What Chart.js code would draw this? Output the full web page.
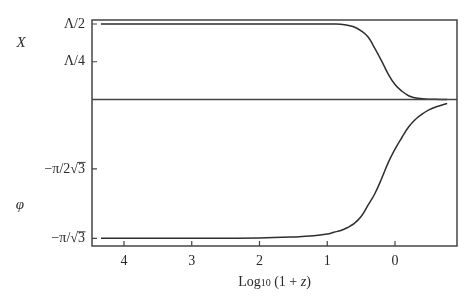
<!DOCTYPE html>
<html>
<head>
<meta charset="utf-8">
<script src="https://cdn.jsdelivr.net/npm/chart.js@4.4.1/dist/chart.umd.min.js"></script>
<style>
html,body{margin:0;padding:0;background:#fff;}
#wrap{width:474px;height:305px;position:relative;}
</style>
</head>
<body>
<div id="wrap"><canvas id="myChart"></canvas></div>
<script>
// log10(1+z) sample points, shared by both curves
var logz = [4.34, 3, 2, 1.5, 1.2, 1.0, 0.9, 0.8, 0.7, 0.6, 0.5, 0.4, 0.3, 0.2, 0.1, 0, -0.1, -0.2, -0.3, -0.4, -0.5, -0.6, -0.77];
// X in units of Lambda
var xVals = [0.5, 0.5, 0.5, 0.5, 0.5, 0.5, 0.4995, 0.498, 0.492, 0.48, 0.455, 0.415, 0.341, 0.258, 0.168, 0.099, 0.056, 0.025, 0.011, 0.005, 0.002, 0.001, 0];
// phi
var phiVals = [-1.814, -1.814, -1.81, -1.797, -1.782, -1.758, -1.735, -1.712, -1.673, -1.62, -1.53, -1.385, -1.235, -1.04, -0.825, -0.65, -0.5, -0.36, -0.261, -0.19, -0.135, -0.098, -0.052];

var xTicks = [4, 3, 2, 1, 0];
var xTickLabels = ['4', '3', '2', '1', '0'];
var xTickTop = [0.5, 0.25];
var xTickTopLabels = ['\u039B/2', '\u039B/4'];
var phiTicks = [-Math.PI / (2 * Math.sqrt(3)), -Math.PI / Math.sqrt(3)];
var phiTickLabels = ['\u2212\u03C0/2\u221A3', '\u2212\u03C0/\u221A3'];

var yMin = -0.970, yMax = 0.5265;
var phiMin = -1.915, phiMax = 1.039;
var ratio = yMax / phiMax;

var ink = '#2a2a2a';
var serif = "'Liberation Serif', 'DejaVu Serif', serif";

function pts(ys){
	return logz.map(function(v, i){ return {x: v, y: ys[i]}; });
}

var frame = {
	id: 'frame',
	afterDraw: function(chart){
		var ctx = chart.ctx, a = chart.chartArea;
		var xs = chart.scales.x, ys = chart.scales.y;
		ctx.save();
		ctx.strokeStyle = '#444';
		ctx.lineWidth = 1.5;
		ctx.strokeRect(a.left, a.top, a.right - a.left, a.bottom - a.top);
		// zero line
		var y0 = ys.getPixelForValue(0);
		ctx.beginPath();
		ctx.moveTo(a.left, y0);
		ctx.lineTo(a.right, y0);
		ctx.stroke();
		// inward ticks
		ctx.lineWidth = 1.2;
		ctx.beginPath();
		xTicks.forEach(function(v){
			var px = xs.getPixelForValue(v);
			ctx.moveTo(px, a.bottom);
			ctx.lineTo(px, a.bottom - 5);
		});
		ys.ticks.forEach(function(t){
			var py = ys.getPixelForValue(t.value);
			ctx.moveTo(a.left, py);
			ctx.lineTo(a.left + 5, py);
		});
		ctx.stroke();
		// overline of the square roots
		ctx.font = '14px ' + serif;
		var w3 = ctx.measureText('3').width;
		ctx.strokeStyle = ink;
		ctx.lineWidth = 0.9;
		ctx.beginPath();
		phiTicks.forEach(function(v){
			var py = ys.getPixelForValue(v * ratio);
			var rx = a.left - 7;
			ctx.moveTo(rx - w3 - 0.5, py - 6.5);
			ctx.lineTo(rx + 0.5, py - 6.5);
		});
		ctx.stroke();
		// side labels
		ctx.fillStyle = ink;
		ctx.textAlign = 'center';
		ctx.textBaseline = 'middle';
		ctx.font = 'italic 15px ' + serif;
		ctx.fillText('X', 21, 43);
		ctx.fillText('\u03C6', 20, 205);
		// x title: Log10 (1 + z)
		var cx = (a.left + a.right) / 2, ty = 286;
		ctx.textAlign = 'left';
		ctx.textBaseline = 'alphabetic';
		var parts = [
			{t: 'Log', f: '14px ' + serif},
			{t: '10', f: '10px ' + serif},
			{t: ' (1 + ', f: '14px ' + serif},
			{t: 'z', f: 'italic 14px ' + serif},
			{t: ')', f: '14px ' + serif}
		];
		var w = 0;
		parts.forEach(function(p){ ctx.font = p.f; p.w = ctx.measureText(p.t).width; w += p.w; });
		var x = cx - w / 2;
		parts.forEach(function(p){
			ctx.font = p.f;
			ctx.fillText(p.t, x, ty);
			x += p.w;
		});
		ctx.restore();
	}
};

var config = {
	type: 'line',
	data: {
		datasets: [
			{
				label: 'X',
				data: pts(xVals),
				borderColor: '#2e2e2e',
				borderWidth: 1.5,
				pointRadius: 0,
				tension: 0.4,
				fill: false,
				yAxisID: 'y'
			},
			{
				label: 'phi',
				data: pts(phiVals),
				borderColor: '#2e2e2e',
				borderWidth: 1.5,
				pointRadius: 0,
				tension: 0.4,
				fill: false,
				yAxisID: 'y2'
			}
		]
	},
	options: {
		animation: false,
		responsive: true,
		maintainAspectRatio: false,
		layout: {padding: {left: 0, right: 17, top: 20, bottom: 0}},
		plugins: {legend: {display: false}, tooltip: {enabled: false}},
		scales: {
			x: {
				type: 'linear',
				reverse: true,
				min: -0.915,
				max: 4.472,
				grid: {display: false, drawTicks: false},
				border: {display: false},
				afterBuildTicks: function(s){ s.ticks = xTicks.map(function(v){ return {value: v}; }); },
				afterFit: function(s){ s.height = 59; },
				ticks: {
					color: ink,
					padding: 7,
					font: {family: serif, size: 14},
					maxRotation: 0,
					callback: function(v){ var i = xTicks.indexOf(v); return i < 0 ? '' : xTickLabels[i]; }
				}
			},
			y: {
				min: yMin,
				max: yMax,
				grid: {display: false, drawTicks: false},
				border: {display: false},
				afterBuildTicks: function(s){
					var t = xTickTop.map(function(v){ return {value: v}; });
					phiTicks.forEach(function(v){ t.push({value: v * ratio}); });
					s.ticks = t;
				},
				afterFit: function(s){ s.width = 92; },
				ticks: {
					color: ink,
					padding: 7,
					font: {family: serif, size: 14},
					callback: function(v, i){ return i < 2 ? xTickTopLabels[i] : phiTickLabels[i - 2]; }
				}
			},
			y2: {
				display: false,
				min: phiMin,
				max: phiMax
			}
		}
	},
	plugins: [frame]
};

var myChart = new Chart(document.getElementById('myChart'), config);
</script>
</body>
</html>
